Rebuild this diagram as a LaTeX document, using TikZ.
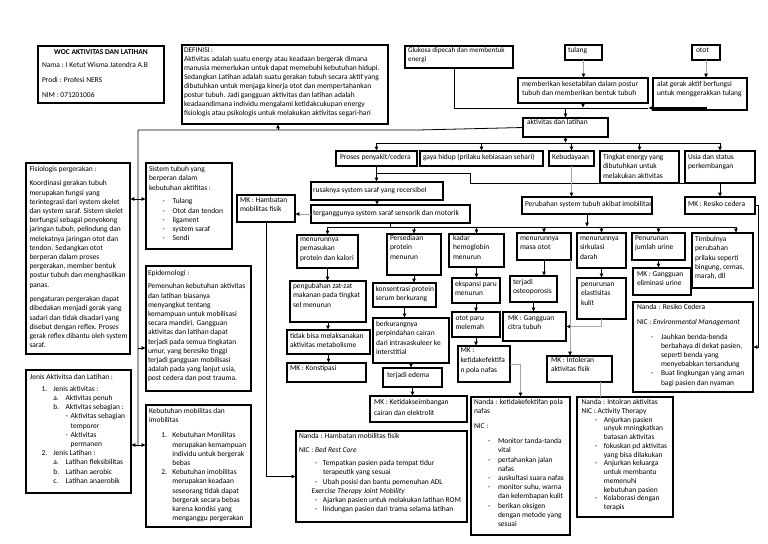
\documentclass[tikz,border=0pt]{standalone}
\usepackage{fontspec}
\setmainfont{Carlito}
\usetikzlibrary{arrows.meta}
\tikzset{
 box/.style={draw=black, line width=0.9pt, fill=white, inner sep=0pt, outer sep=0pt, anchor=north west},
 txt/.style={inner sep=0pt, outer sep=0pt, anchor=north west, align=left, font=\fontsize{5.6}{6.9}\selectfont},
 ln/.style={draw=black, line width=0.6pt},
 gln/.style={draw=gray!70, line width=0.6pt},
 arr/.style={ln, -{Latex[length=3.2pt,width=3pt]}},
 garr/.style={gln, -{Latex[length=3.2pt,width=3pt,color=black]}},
}
\newcommand\bdash[3]{\hspace*{#1pt}\makebox[#2pt][l]{-}#3}
\newcommand\bcont[2]{\hspace*{#1pt}#2}
\newcommand\blab[3]{\hspace*{#1pt}\makebox[#2pt][l]{#3}}
\newcommand\bx[9][]{%
 \node[box, minimum width={(#5-#3)*0.75pt}, minimum height={(#6-#4)*0.75pt}] (#2) at (#3,#4) {};
 \node[txt,#1] (#2t) at (#7,#8-3.5) {\vphantom{Ak}#9};}
\begin{document}
\begin{tikzpicture}[x=0.75pt,y=-0.75pt]
\useasboundingbox (0,0) rectangle (768,543);
\fill[white] (0,0) rectangle (768,543);

% header
\node[box, minimum width={126*0.75pt}, minimum height={57*0.75pt}] (hdr) at (38,46) {};
\node[txt, anchor=base, font=\fontsize{5.6}{6.9}\selectfont\bfseries] (hdr1) at (101,54.3) {WOC AKTIVITAS DAN LATIHAN};
\node[txt, anchor=base west] (hdr2) at (42,67.7) {Nama : I Ketut Wisma Jatendra A.B};
\node[txt, anchor=base west] (hdr3) at (42,82.7) {Prodi : Profesi NERS};
\node[txt, anchor=base west] (hdr4) at (42,97.7) {NIM : 071201006};

\bx[font=\fontsize{5.6}{6.75}\selectfont]{def}{182}{45}{388}{124}{184}{51}{DEFINISI :\\ Aktivitas adalah suatu energy atau keadaan bergerak dimana\\ manusia memerlukan untuk dapat memebuhi kebutuhan hidupi.\\ Sedangkan Latihan adalah suatu gerakan tubuh secara aktif yang\\ dibutuhkan untuk menjaga kinerja otot dan mempertahankan\\ postur tubuh. Jadi gangguan aktivitas dan latihan adalah\\ keadaandimana individu mengalami ketidakcukupan energy\\ fisiologis atau psikologis untuk melakukan aktivitas segari-hari}

\bx[font=\fontsize{5.35}{6.9}\selectfont]{glu}{405}{46}{513}{68}{408}{51}{Glukosa dipecah dan membentuk\\ energi}
\bx{tul}{565}{45}{602}{60}{568}{51}{tulang}
\bx{oto}{692}{45}{720}{60}{696}{51}{otot}
\bx{mem}{518}{78}{648}{103}{522}{85}{memberikan kesetabilan dalam postur\\ tubuh dan memberikan bentuk tubuh}
\bx{ala}{653}{78}{747}{110}{657}{85}{alat gerak aktif berfungsi\\ untuk menggerakkan tulang}
\bx{akt}{523}{118}{608}{137}{527}{123}{aktivitas dan latihan}

\bx{pro}{336}{151}{417}{166}{340}{158}{Proses penyakit/cedera}
\bx{gay}{420}{151}{543}{166}{423}{158}{gaya hidup (prilaku kebiasaan sehari)}
\bx{keb}{549}{151}{594}{166}{552}{158}{Kebudayaan}
\bx{tin}{600}{151}{679}{183}{603}{158}{Tingkat energy yang\\ dibutuhkan untuk\\ melakukan aktivitas}
\bx{usi}{685}{151}{755}{183}{688}{158}{Usia dan status\\ perkembangan}

\bx{rus}{311}{182}{443}{200}{313}{190.5}{rusaknya system saraf yang recersibel}
\bx{ter}{311}{205}{470}{223}{313}{213.5}{terganggunya system saraf sensorik dan motorik}
\bx{mkh}{237}{195}{295}{222}{240}{200.5}{MK : Hambatan\\ mobilitas fisik}
\bx{per}{522}{197}{652}{214}{525}{205}{Perubahan system tubuh akibat imobilitas}
\bx{mkr}{685}{197}{755}{214}{688}{205}{MK : Resiko cedera}

\bx{mpp}{297}{235}{358}{268}{300}{240}{menurunnya\\ pemasukan\\ protein dan kalori}
\bx{pse}{387}{234}{441}{275}{390}{239}{Persediaan\\ protein\\ menurun}
\bx{kad}{449}{234}{504}{267}{453}{239}{kadar\\ hemoglobin\\ menurun}
\bx{mas}{517}{233}{571}{260}{520}{239}{menurunnya\\ masa otot}
\bx{sir}{577}{233}{626}{268}{580}{239}{menurunnya\\ sirkulasi\\ darah}
\bx{pen}{632}{233}{685}{260}{635}{239}{Penurunan\\ jumlah urine}
\bx{tim}{692}{233}{753}{288}{695}{240}{Timbulnya\\ perubahan\\ prilaku seperti\\ bingung, cemas,\\ marah, dll}

\bx{pzz}{290}{281}{366}{322}{293}{287}{pengubahan zat-zat\\ makanan pada tingkat\\ sel menurun}
\bx{tbm}{287}{330}{370}{354}{290}{337}{tidak bisa melaksanakan\\ aktivitas metabolisme}
\bx{kon}{287}{363}{366}{382}{290}{369}{MK : Konstipasi}
\bx{kps}{373}{283}{436}{307}{375.5}{289.5}{konsentrasi protein\\ serum berkurang}
\bx{ber}{373}{318}{449}{363}{376}{325}{berkurangnya\\ perpindahan cairan\\ dari intravaskuleer ke\\ interstitial}
\bx{ede}{383}{368}{442}{387}{387}{376}{terjadi edema}
\bx{mkk}{370}{396}{467}{422}{374}{403}{MK : Ketidakseimbangan\\[1pt] cairan dan elektrolit}
\bx{eks}{452}{278}{500}{303}{455}{285}{ekspansi paru\\ menurun}
\bx{otp}{452}{312}{500}{337}{455.5}{319}{otot paru\\ melemah}
\bx{mkn}{458}{346}{510}{382}{460.5}{351}{MK :\\[0.7pt] ketidakefektifa\\[0.7pt] n pola nafas}
\bx{ost}{510}{276}{557}{302}{513}{282.5}{terjadi\\ osteoporosis}
\bx{mkc}{503}{312}{566}{341}{508}{318.5}{MK : Gangguan\\ citra tubuh}
\bx{pel}{577}{278}{626}{319}{581}{285}{penurunan\\ elastisitas\\ kulit}
\bx{mki}{547}{356}{612}{382}{551}{360.5}{MK : Intoleran\\ aktivitas fisik}
\bx{mke}{633}{268}{691}{295}{637}{275}{MK : Gangguan\\ eliminasi urine}

\bx{nr}{633}{302}{753}{392}{637}{307.5}{Nanda : Resiko Cedera\\[4.3pt] NIC : \textit{Environmental Managemant}\\[4.3pt] \bdash{10.5}{7.5}{Jauhkan benda-benda}\\ \bcont{18}{berbahaya di dekat pasien,}\\ \bcont{18}{seperti benda yang}\\ \bcont{18}{menyebabkan tersandung}\\ \bdash{10.5}{7.5}{Buat lingkungan yang aman}\\ \bcont{18}{bagi pasien dan nyaman}}

\bx[font=\fontsize{5.6}{6.55}\selectfont]{ni}{577}{397}{673}{517}{581.5}{403}{Nanda : Intolran aktivitas\\ NIC : Activity Therapy\\ \bdash{10}{6.75}{Anjurkan pasien}\\ \bcont{16.75}{unyuk mningkatkan}\\ \bcont{16.75}{batasan aktivitas}\\ \bdash{10}{6.75}{fokuskan pd aktivitas}\\ \bcont{16.75}{yang bisa dilakukan}\\ \bdash{10}{6.75}{Anjurkan keluarga}\\ \bcont{16.75}{untuk membantu}\\ \bcont{16.75}{memenuhi}\\ \bcont{16.75}{kebutuhan pasien}\\ \bdash{10}{6.75}{Kolaborasi dengan}\\ \bcont{16.75}{terapis}}

\bx{nk}{471}{397}{570}{535}{474}{403}{Nanda : ketidakefektifan pola\\ nafas\\[4.3pt] NIC :\\[4.3pt] \bdash{10.5}{7.5}{Monitor tanda-tanda}\\ \bcont{18}{vital}\\ \bdash{10.5}{7.5}{pertahankan jalan}\\ \bcont{18}{nafas}\\ \bdash{10.5}{7.5}{auskultasi suara nafas}\\ \bdash{10.5}{7.5}{monitor suhu, warna}\\ \bcont{18}{dan kelembapan kulit}\\ \bdash{10.5}{7.5}{berikan oksigen}\\ \bcont{18}{dengan metode yang}\\ \bcont{18}{sesuai}}

\bx{nh}{296}{431}{467}{522}{299}{437}{Nanda : Hambatan mobilitas fisik\\[3.6pt] NIC : \textit{Bed Rest Core}\\[2.8pt] \bdash{12}{6}{Tempatkan pasien pada tempat tidur}\\ \bcont{18}{terapeutik yang sesuai}\\ \bdash{12}{6}{Ubah posisi dan bantu pemenuhan ADL}\\ \bcont{9.5}{\textit{Exercise Therapy Joint Mobility}}\\ \bdash{12}{6}{Ajarkan pasien untuk melakukan latihan ROM}\\ \bdash{12}{6}{lindungan pasien dari trama selama latihan}}

\bx{fis}{26}{163}{130}{354}{29.5}{169.5}{Fisiologis pergerakan :\\[4.1pt] Koordinasi gerakan tubuh\\ merupakan fungsi yang\\ terintegrasi dari system skelet\\ dan system saraf. Sistem skelet\\ berfungsi sebagai penyokong\\ jaringan tubuh, pelindung dan\\ melekatnya jaringan otot dan\\ tendon. Sedangkan otot\\ berperan dalam proses\\ pergerakan, member bentuk\\ postur tubuh dan menghasilkan\\ panas.\\[4.1pt] pengaturan pergerakan dapat\\ dibedakan menjadi gerak yang\\ sadari dan tidak disadari yang\\ disebut dengan reflex. Proses\\ gerak reflex dibantu oleh system\\ saraf.}

\bx{sis}{146}{163}{232}{249}{149}{170}{Sistem tubuh yang\\ berperan dalam\\ kebutuhan aktifitas :\\[3.5pt] \bdash{10.25}{7.5}{Tulang}\\ \bdash{10.25}{7.5}{Otot dan tendon}\\ \bdash{10.25}{7.5}{ligament}\\ \bdash{10.25}{7.5}{system saraf}\\ \bdash{10.25}{7.5}{Sendi}}

\bx{epi}{146}{266}{251}{391}{148}{273.5}{Epidemologi :\\[3.4pt] Pemenuhan kebutuhan aktivitas\\ dan latihan biasanya\\ menyangkut tentang\\ kemampuan untuk mobilisasi\\ secara mandiri. Gangguan\\ aktivitas dan latihan dapat\\ terjadi pada semua tingkatan\\ umur, yang beresiko tinggi\\ terjadi gangguan mobilisasi\\ adalah pada yang lanjut usia,\\ post cedera dan post trauma.}

\bx{jen}{26}{370}{131}{493}{30}{378}{Jenis Aktivitsa dan Latihan :\\[1.8pt] \blab{8.75}{8.75}{1.}Jenis aktivitas :\\ \blab{17.5}{9.25}{a.}Aktivitas penuh\\ \blab{17.5}{9.25}{b.}Aktivitas sebagian :\\ \bdash{26.75}{3.75}{Aktivitas sebagian}\\ \bcont{30.5}{temporer}\\ \bdash{26.75}{3.75}{Aktivitas}\\ \bcont{30.5}{permanen}\\ \blab{8.75}{8.75}{2.}Jenis Latihan :\\ \blab{17.5}{9.25}{a.}Latihan fleksibilitas\\ \blab{17.5}{9.25}{b.}Latihan aerobic\\ \blab{17.5}{9.25}{c.}Latihan anaerobik}

\bx{kbm}{146}{405}{251}{527}{149}{412}{Kebutuhan mobilitas dan\\ imobilitas\\[4.4pt] \blab{9.25}{8.25}{1.}Kebutuhan Monilitas\\ \bcont{17.5}{merupakan kemampuan}\\ \bcont{17.5}{individu untuk bergerak}\\ \bcont{17.5}{bebas}\\ \blab{9.25}{8.25}{2.}Kebutuhan imobilitas\\ \bcont{17.5}{merupakan keadaan}\\ \bcont{17.5}{seseorang tidak dapat}\\ \bcont{17.5}{bergerak secara bebas}\\ \bcont{17.5}{karena kondisi yang}\\ \bcont{17.5}{menganggu pergerakan}}

% ---------- connectors ----------
\coordinate (tA) at (418,130);
\coordinate (t0) at (138,130);
\coordinate (t1) at (138,199);
\coordinate (t2) at (138,348);
\coordinate (t3) at (138,445);
\coordinate (dj) at (278,130);
\draw[ln] (akt.west) -- (tA) -- (t0) -- (t3);
\draw[arr] (dj) -- (dj |- def.south);
\draw[arr] (t1) -- (t1 -| fis.east);
\draw[arr] (t1) -- (t1 -| sis.west);
\draw[arr] (t2) -- (t2 -| epi.west);
\draw[arr] (t3) -- (t3 -| jen.east);
\draw[arr] (t3) -- (t3 -| kbm.west);

\coordinate (g1) at (454,108);
\coordinate (g2) at (648,108);
\coordinate (g3) at (707,108);
\draw[garr] (tul.south) -- (tul.south |- mem.north);
\draw[garr] (oto.south) -- (oto.south |- ala.north);
\draw[ln] (glu.south -| g1) -- (g1) -- (g2);
\draw[arr, line width=1pt] (g3) -- (g2);
\draw[arr] (mem.south) -- (mem.south |- g1);
\draw[arr] (akt.north |- g1) -- (akt.north);

\coordinate (c0) at (0,143);
\draw[ln] (pro.north |- c0) -- (usi.north |- c0);
\draw[arr] (akt.south) -- (akt.south |- c0);
\foreach \n in {pro,gay,keb,tin,usi} \draw[arr] (\n.north |- c0) -- (\n.north);

\coordinate (p2) at (470,173);
\coordinate (k1) at (470,183);
\draw[arr] (pro.south) -- (pro.south |- rus.north);
\draw[ln] (pro.south |- p2) -- (p2) -- (k1) -- (k1 -| usi.south);
\draw[ln] (tin.south) -- (tin.south |- k1);
\draw[garr] (keb.south) -- (keb.south |- per.north);
\draw[arr] (mkr.north |- k1) -- (mkr.north);

\draw[arr] (rus.south) -- (rus.south |- ter.north);
\draw[garr] (ter.west) -- (ter.west -| mkh.east);
\draw[arr] (mkh.south) |- (nh.west);

\coordinate (r0) at (0,227);
\coordinate (r1) at (736,227);
\draw[ln] (ter.south) -- (ter.south |- r0);
\draw[arr] (per.south) -- (per.south |- r0);
\draw[ln] (mpp.north |- r0) -- (r1);
\foreach \n in {mpp,pse,kad,mas,sir,pen} \draw[arr] (\n.north |- r0) -- (\n.north);
\draw[arr] (r1) -- (r1 |- tim.north);

\draw[arr] (mpp.south) -- (mpp.south |- pzz.north);
\draw[arr] (pzz.south) -- (pzz.south |- tbm.north);
\draw[arr] (tbm.south) -- (tbm.south |- kon.north);
\draw[arr] (pse.south) -- (pse.south |- kps.north);
\draw[arr] (kps.south) -- (kps.south |- ber.north);
\draw[arr] (ber.south) -- (ber.south |- ede.north);
\draw[arr] (ede.south) -- (ede.south |- mkk.north);
\draw[arr] (kad.south) -- (kad.south |- eks.north);
\draw[arr] (eks.south) -- (eks.south |- otp.north);
\draw[arr] (otp.south) -- (otp.south |- mkn.north);
\draw[garr] (mkn.east) -| (nk.north);
\draw[arr] (mas.south) -- (mas.south |- ost.north);
\draw[arr] (ost.south) -- (ost.south |- mkc.north);
\draw[arr] (sir.south) -- (sir.south |- pel.north);
\draw[garr] (pel.south) |- (mkc.east);
\coordinate (m1) at (570,260);
\draw[garr] (m1) -- (m1 |- mki.north);
\coordinate (m2) at (600,382);
\draw[gln] (m2) -- (m2 |- ni.north);
\draw[arr] (pen.south) -- (pen.south |- mke.north);
\draw[arr] (mkr.east) -- ++(3,0) |- (nr.east);
\end{tikzpicture}
\end{document}
